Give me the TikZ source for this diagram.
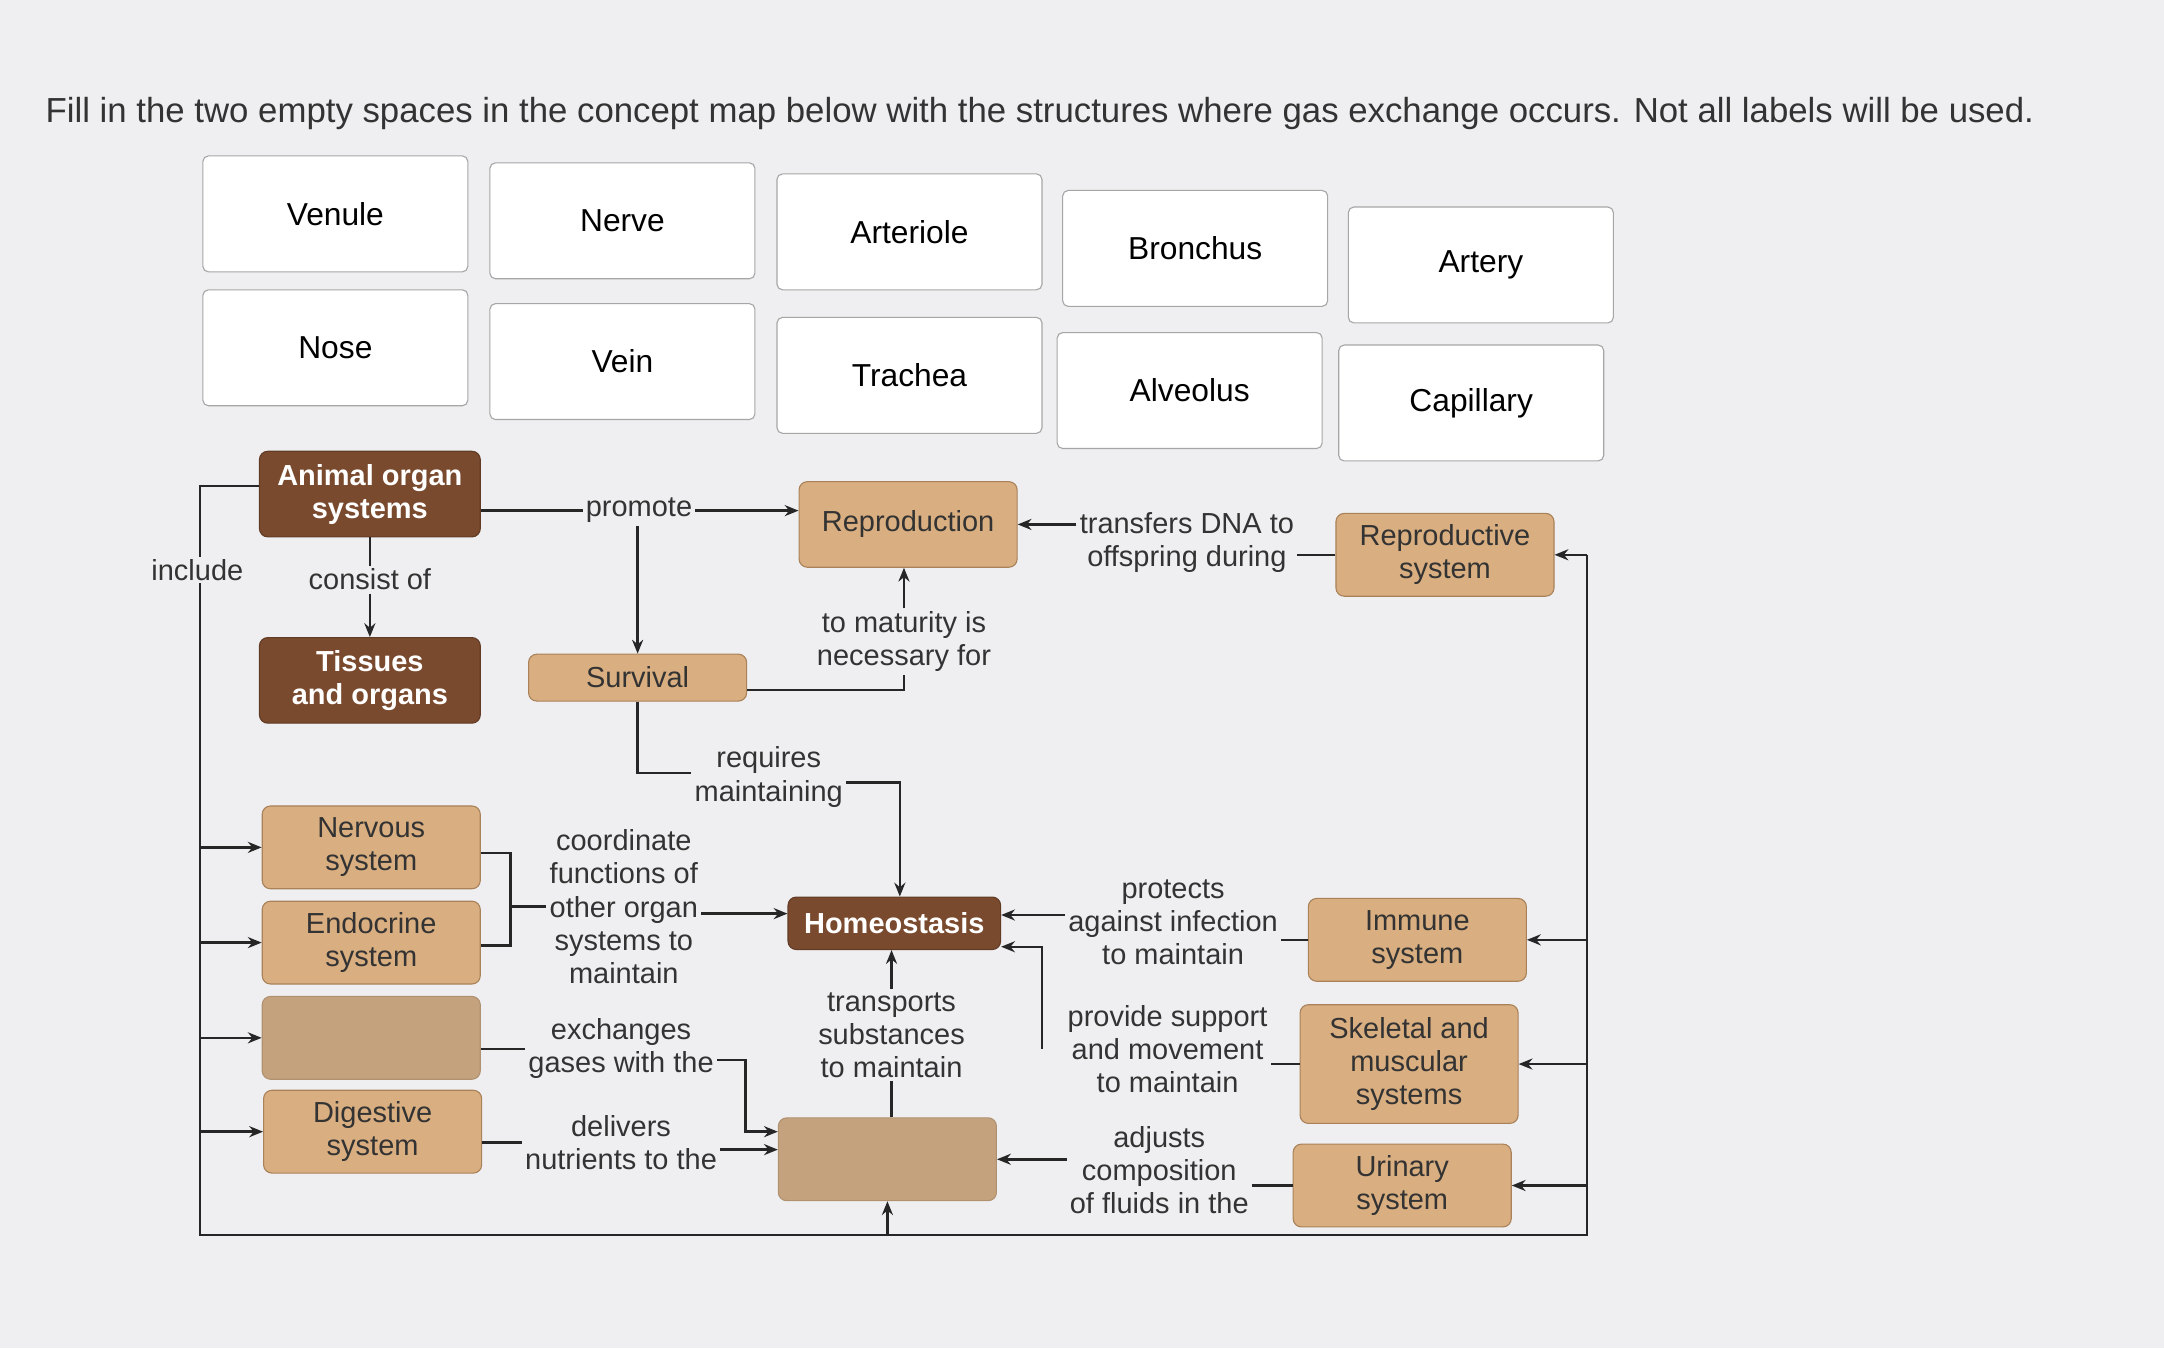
\documentclass[tikz,border=0pt]{standalone}
\usepackage{fontspec}
\setmainfont{Liberation Sans}
\usetikzlibrary{arrows.meta}
\definecolor{dk}{HTML}{7A4A2E}
\definecolor{tn}{HTML}{D9AE80}
\definecolor{tnb}{HTML}{A9825A}
\definecolor{em}{HTML}{C4A27E}
\definecolor{bg}{HTML}{EFEFF1}
\begin{document}
\begin{tikzpicture}[x=0.5pt,y=-0.5pt,font=\fontsize{10.5}{12}\selectfont,
 lbl/.style={draw=gray!70,fill=white,rounded corners=2pt,minimum width=96pt,minimum height=42pt,font=\fontsize{11.5}{13}\selectfont},
 dkb/.style={fill=dk,draw=dk!80!black,rounded corners=3pt,text=white,font=\fontsize{10.5}{12}\selectfont\bfseries,align=center,minimum width=80pt,minimum height=31pt,inner sep=1pt},
 tnbx/.style={fill=tn,draw=tnb,rounded corners=3pt,text=black!80,align=center,minimum width=79pt,minimum height=30pt,inner sep=1pt},
 emb/.style={fill=em,draw=em!90!black,rounded corners=3pt,minimum width=79pt,minimum height=30pt},
 tx/.style={align=center,inner sep=1pt,text=black!80,fill=bg},
 ln/.style={draw=black!85,line width=0.9pt},
 ar/.style={ln,-{Stealth[length=5pt,width=4pt]}}]
\fill[bg] (0,0) rectangle (1568,977);
\useasboundingbox (0,0) rectangle (1568,977);
\node[anchor=west,font=\fontsize{12.6}{14}\selectfont,text=black!80] (title) at (26,82) {Fill in the two empty spaces in the concept map below with the structures where gas exchange occurs. Not all labels will be used.};
% label boxes
\foreach \n/\x/\y in {Venule/243/155,Nerve/451/160,Arteriole/659/168,Bronchus/866/180,Artery/1073/192,
  Nose/243/252,Vein/451/262,Trachea/659/272,Alveolus/862/283,Capillary/1066/292}
  \node[lbl] (\n) at (\x,\y) {\n};
% concept nodes
\node[dkb] (aos) at (268,358) {Animal organ\\systems};
\node[dkb] (tis) at (268,493) {Tissues\\and organs};
\node[tnbx] (nerv) at (269,614) {Nervous\\system};
\node[tnbx] (endo) at (269,683) {Endocrine\\system};
\node[emb] (e1) at (269,752) {};
\node[tnbx] (dig) at (270,820) {Digestive\\system};
\node[tnbx,minimum height=31pt] (rep) at (658,380) {Reproduction};
\node[tnbx,minimum height=17pt] (sur) at (462,491) {Survival};
\node[dkb,minimum width=77pt,minimum height=19pt] (hom) at (648,669) {Homeostasis};
\node[emb] (e2) at (643,840) {};
\node[tnbx] (rs) at (1047,402) {Reproductive\\system};
\node[tnbx] (imm) at (1027,681) {Immune\\system};
\node[tnbx,minimum height=43pt] (skm) at (1021,771) {Skeletal and\\muscular\\systems};
\node[tnbx] (uri) at (1016,859) {Urinary\\system};
% loop
\coordinate (lt) at (145,352);
\coordinate (lb) at (145,895);
\coordinate (rb) at (1150,895);
\coordinate (rt) at (1150,402);
\draw[ln] (aos.west|-lt) -- (lt) -- (lb) -- (rb) -- (rt);
\node[tx] (inc) at (143,413) {include};
\foreach \t in {nerv,endo,e1,dig} \draw[ar] (145,0|-\t) -- (\t.west);
\foreach \t in {rs,imm,skm,uri} \draw[ar] (1150,0|-\t) -- (\t.east);
\draw[ar] (643,895) -- (e2.south);
% text labels
\node[tx] (pro) at (463,370) {promote};
\draw[ln] (aos.east|-pro) -- (pro.west);
\draw[ar] (pro.east) -- (rep.west|-pro);
\draw[ar] (462,0|-pro.south) -- (462,0|-sur.north);
\node[tx] (con) at (268,420) {consist of};
\draw[ln] (aos.south) -- (con.north);
\draw[ar] (con.south) -- (tis.north);
\node[tx] (tdna) at (860,393) {transfers DNA to\\offspring during};
\draw[ln] (rs.west) -- (tdna.east|-rs.west);
\draw[ar] (tdna.west|-rep) -- (rep.east);
\node[tx] (mat) at (655,465) {to maturity is\\necessary for};
\draw[ln] (sur.east|-0,500) -- (655,500) -- (mat.south);
\draw[ar] (655,0|-mat.north) -- (655,0|-rep.south);
\node[tx] (req) at (557,563) {requires\\maintaining};
\draw[ln] (462,0|-sur.south) -- (462,560) -- (req.west|-0,560);
\draw[ar] (req.east|-0,567) -- (652,567) -- (hom.north-|652,0);
\node[tx] (coo) at (452,657) {coordinate\\functions of\\other organ\\systems to\\maintain};
\draw[ln] (nerv.east|-0,618) -- (370,618) -- (370,685) -- (endo.east|-0,685);
\draw[ln] (370,657) -- (coo.west|-0,657);
\draw[ar] (coo.east|-0,662) -- (hom.west|-0,662);
\node[tx] (exg) at (450,760) {exchanges\\gases with the};
\draw[ln] (e1.east|-exg) -- (exg.west);
\draw[ar] (exg.east|-0,768) -- (540,768) -- (540,820) -- (e2.west|-0,820);
\node[tx] (del) at (450,828) {delivers\\nutrients to the};
\draw[ln] (dig.east|-del) -- (del.west);
\draw[ar] (del.east|-0,833) -- (e2.west|-0,833);
\node[tx] (trn) at (646,750) {transports\\substances\\to maintain};
\draw[ln] (646,0|-e2.north) -- (646,0|-trn.south);
\draw[ar] (646,0|-trn.north) -- (646,0|-hom.south);
\node[tx] (prt) at (850,668) {protects\\against infection\\to maintain};
\draw[ln] (imm.west) -- (prt.east|-imm.west);
\draw[ar] (prt.west|-0,663) -- (hom.east|-0,663);
\node[tx] (sup) at (846,760) {provide support\\and movement\\to maintain};
\draw[ln] (skm.west) -- (sup.east|-skm.west);
\draw[ar] (755,760) -- (755,686) -- (hom.east|-0,686);
\node[tx] (adj) at (840,848) {adjusts\\composition\\of fluids in the};
\draw[ln] (uri.west) -- (adj.east|-uri.west);
\draw[ar] (adj.west|-e2) -- (e2.east);
\end{tikzpicture}
\end{document}
